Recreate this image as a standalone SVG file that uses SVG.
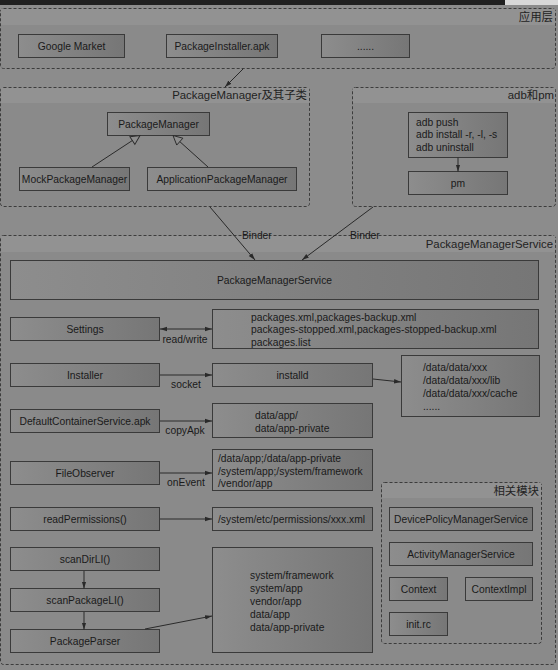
<svg xmlns="http://www.w3.org/2000/svg" width="558" height="670" viewBox="0 0 558 670">
<defs>
<linearGradient id="ng" x1="0" y1="0" x2="1" y2="0">
<stop offset="0" stop-color="#8d8d8d"/>
<stop offset="1" stop-color="#767676"/>
</linearGradient>
<marker id="arr" viewBox="0 0 10 10" refX="10" refY="5" markerWidth="7" markerHeight="7" orient="auto-start-reverse" markerUnits="userSpaceOnUse">
<path d="M0,1.8 L10,5 L0,8.2 Z" fill="#2a2a2a"/>
</marker>
<marker id="inh" viewBox="0 0 12 12" refX="11" refY="6" markerWidth="11" markerHeight="11" orient="auto" markerUnits="userSpaceOnUse">
<path d="M1,1 L11,6 L1,11 Z" fill="#8e8e8e" stroke="#2a2a2a" stroke-width="1"/>
</marker>
<style>
.grp{fill:#8a8a8a;stroke:#3c3c3c;stroke-width:1;stroke-dasharray:3,2}
.hdr{fill:#929292}
.node{fill:url(#ng);stroke:#3a3a3a;stroke-width:1}
.t{font-family:"Liberation Sans",Arial,sans-serif;font-size:10.3px;fill:#1a1a1a}
.c{text-anchor:middle}
.gt{font-family:"Liberation Sans","Noto Sans CJK SC",sans-serif;font-size:11.4px;fill:#222222;text-anchor:end}
.ln{stroke:#2a2a2a;stroke-width:1;fill:none}
</style>
</defs>
<rect x="0" y="0" width="558" height="670" fill="#8c8c8c"/>
<rect x="0" y="0" width="558" height="5" fill="#202020"/>
<rect x="505" y="0" width="53" height="5" fill="#d8d8d8"/>

<g id="app-layer">
<rect class="grp" x="0.5" y="8.5" width="555" height="60" rx="3"/>
<rect class="hdr" x="1" y="9" width="554" height="16"/>
<text class="gt" x="553" y="21">应用层</text>
</g>
<g id="google-market"><rect class="node" x="18.5" y="34.5" width="106" height="23"/><text class="t c" x="71.5" y="50">Google Market</text></g>
<g id="package-installer"><rect class="node" x="166.5" y="34.5" width="111" height="23"/><text class="t c" x="222" y="50">PackageInstaller.apk</text></g>
<g id="more-apps"><rect class="node" x="321.5" y="34.5" width="88" height="23"/><text class="t c" x="365.5" y="50">......</text></g>

<g id="pm-group">
<rect class="grp" x="0.5" y="87.5" width="309" height="119" rx="3"/>
<rect class="hdr" x="1" y="88" width="308" height="15"/>
<text class="gt" x="307" y="99">PackageManager及其子类</text>
</g>
<g id="package-manager"><rect class="node" x="107.5" y="112.5" width="102" height="23"/><text class="t c" x="158.5" y="128">PackageManager</text></g>
<g id="mock-pm"><rect class="node" x="19.5" y="167.5" width="110" height="23"/><text class="t c" x="74.5" y="183">MockPackageManager</text></g>
<g id="app-pm"><rect class="node" x="147.5" y="167.5" width="149" height="23"/><text class="t c" x="222" y="183">ApplicationPackageManager</text></g>

<g id="adb-group">
<rect class="grp" x="352.5" y="87.5" width="203" height="119" rx="3"/>
<rect class="hdr" x="353" y="88" width="202" height="15"/>
<text class="gt" x="554" y="99">adb和pm</text>
</g>
<g id="adb-cmds"><rect class="node" x="408.5" y="112.5" width="99" height="45"/>
<text class="t" x="416" y="126">adb push</text>
<text class="t" x="416" y="138">adb install -r, -l, -s</text>
<text class="t" x="416" y="151">adb uninstall</text></g>
<g id="pm"><rect class="node" x="408.5" y="171.5" width="99" height="23"/><text class="t c" x="458" y="187">pm</text></g>

<g id="pms-group">
<rect class="grp" x="0.5" y="235.5" width="555" height="429" rx="3"/>
<rect class="hdr" x="1" y="236" width="554" height="16"/>
<text class="gt" x="553" y="248">PackageManagerService</text>
</g>
<g id="pms"><rect class="node" x="10.5" y="260.5" width="528" height="39"/><text class="t c" x="274.5" y="284">PackageManagerService</text></g>
<g id="settings"><rect class="node" x="10.5" y="317.5" width="149" height="23"/><text class="t c" x="85" y="333">Settings</text></g>
<g id="packages-files"><rect class="node" x="212.5" y="309.5" width="326" height="39"/>
<text class="t" x="251" y="320.5">packages.xml,packages-backup.xml</text>
<text class="t" x="251" y="333">packages-stopped.xml,packages-stopped-backup.xml</text>
<text class="t" x="251" y="346">packages.list</text></g>
<g id="installer"><rect class="node" x="10.5" y="363.5" width="149" height="23"/><text class="t c" x="85" y="379">Installer</text></g>
<g id="installd"><rect class="node" x="212.5" y="363.5" width="160" height="23"/><text class="t c" x="292.5" y="379">installd</text></g>
<g id="data-dirs"><rect class="node" x="401.5" y="355.5" width="138" height="61"/>
<text class="t" x="423" y="371">/data/data/xxx</text>
<text class="t" x="423" y="384">/data/data/xxx/lib</text>
<text class="t" x="423" y="397">/data/data/xxx/cache</text>
<text class="t" x="423" y="410">......</text></g>
<g id="dcs"><rect class="node" x="10.5" y="409.5" width="149" height="23"/><text class="t c" x="85" y="425">DefaultContainerService.apk</text></g>
<g id="data-app"><rect class="node" x="212.5" y="403.5" width="160" height="34"/>
<text class="t" x="255" y="419">data/app/</text>
<text class="t" x="255" y="432">data/app-private</text></g>
<g id="file-observer"><rect class="node" x="10.5" y="461.5" width="149" height="23"/><text class="t c" x="85" y="477">FileObserver</text></g>
<g id="watched-dirs"><rect class="node" x="212.5" y="449.5" width="160" height="41"/>
<text class="t" x="218" y="462">/data/app;/data/app-private</text>
<text class="t" x="218" y="475">/system/app;/system/framework</text>
<text class="t" x="218" y="487">/vendor/app</text></g>
<g id="read-permissions"><rect class="node" x="10.5" y="507.5" width="149" height="23"/><text class="t c" x="85" y="523">readPermissions()</text></g>
<g id="permissions-xml"><rect class="node" x="212.5" y="507.5" width="160" height="23"/><text class="t" x="218" y="523">/system/etc/permissions/xxx.xml</text></g>
<g id="scan-dir"><rect class="node" x="10.5" y="547.5" width="149" height="23"/><text class="t c" x="85" y="563">scanDirLI()</text></g>
<g id="scan-package"><rect class="node" x="10.5" y="588.5" width="149" height="23"/><text class="t c" x="85" y="604">scanPackageLI()</text></g>
<g id="package-parser"><rect class="node" x="10.5" y="629.5" width="149" height="23"/><text class="t c" x="85" y="645">PackageParser</text></g>
<g id="scan-dirs"><rect class="node" x="212.5" y="547.5" width="160" height="105"/>
<text class="t" x="250" y="579">system/framework</text>
<text class="t" x="250" y="592">system/app</text>
<text class="t" x="250" y="605">vendor/app</text>
<text class="t" x="250" y="618">data/app</text>
<text class="t" x="250" y="631">data/app-private</text></g>

<g id="related-group">
<rect class="grp" x="381.5" y="482.5" width="160" height="161" rx="3"/>
<rect class="hdr" x="382" y="483" width="159" height="15"/>
<text class="gt" x="539" y="495">相关模块</text>
</g>
<g id="dpms"><rect class="node" x="389.5" y="507.5" width="143" height="23"/><text class="t c" x="461" y="523">DevicePolicyManagerService</text></g>
<g id="ams"><rect class="node" x="389.5" y="542.5" width="143" height="23"/><text class="t c" x="461" y="558">ActivityManagerService</text></g>
<g id="context"><rect class="node" x="389.5" y="577.5" width="58" height="23"/><text class="t c" x="418.5" y="593">Context</text></g>
<g id="context-impl"><rect class="node" x="465.5" y="577.5" width="67" height="23"/><text class="t c" x="499" y="593">ContextImpl</text></g>
<g id="init-rc"><rect class="node" x="389.5" y="612.5" width="58" height="23"/><text class="t c" x="418.5" y="628">init.rc</text></g>

<g id="connectors">
<line class="ln" x1="243" y1="69" x2="225" y2="87" marker-end="url(#arr)"/>
<line class="ln" x1="92" y1="167" x2="140" y2="135.5" marker-end="url(#inh)"/>
<line class="ln" x1="208" y1="167" x2="173" y2="135.5" marker-end="url(#inh)"/>
<line class="ln" x1="458" y1="157.5" x2="458" y2="171.5" marker-end="url(#arr)"/>
<line class="ln" x1="210" y1="207" x2="255" y2="260" marker-end="url(#arr)"/>
<line class="ln" x1="373" y1="207" x2="302" y2="260" marker-end="url(#arr)"/>
<text class="t" x="242" y="239">Binder</text>
<text class="t" x="350" y="239">Binder</text>
<line class="ln" x1="160" y1="329" x2="212" y2="329" marker-start="url(#arr)" marker-end="url(#arr)"/>
<text class="t c" x="185" y="343">read/write</text>
<line class="ln" x1="160" y1="375" x2="212" y2="375" marker-end="url(#arr)"/>
<text class="t c" x="186" y="388">socket</text>
<line class="ln" x1="373" y1="379" x2="401" y2="382" marker-end="url(#arr)"/>
<line class="ln" x1="160" y1="421" x2="212" y2="421" marker-end="url(#arr)"/>
<text class="t c" x="185" y="434">copyApk</text>
<line class="ln" x1="160" y1="473" x2="212" y2="473" marker-end="url(#arr)"/>
<text class="t c" x="186" y="486">onEvent</text>
<line class="ln" x1="160" y1="519" x2="212" y2="519" marker-end="url(#arr)"/>
<line class="ln" x1="84" y1="571" x2="84" y2="588.5" marker-end="url(#arr)"/>
<line class="ln" x1="84" y1="612" x2="84" y2="629.5" marker-end="url(#arr)"/>
<line class="ln" x1="145" y1="629" x2="212" y2="616" marker-end="url(#arr)"/>
</g>
</svg>
